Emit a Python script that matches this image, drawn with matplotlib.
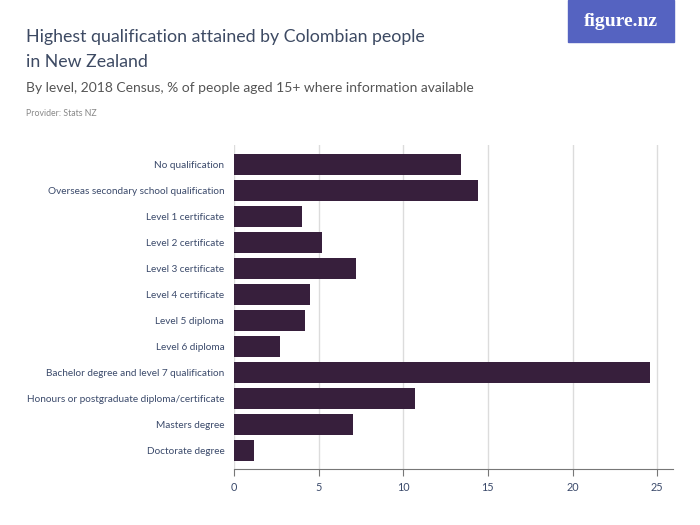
import matplotlib

matplotlib.use("Agg")
import matplotlib.pyplot as plt
from matplotlib.patches import Rectangle

categories = [
    "No qualification",
    "Overseas secondary school qualification",
    "Level 1 certificate",
    "Level 2 certificate",
    "Level 3 certificate",
    "Level 4 certificate",
    "Level 5 diploma",
    "Level 6 diploma",
    "Bachelor degree and level 7 qualification",
    "Honours or postgraduate diploma/certificate",
    "Masters degree",
    "Doctorate degree",
]
values = [13.4, 14.4, 4.0, 5.2, 7.2, 4.5, 4.2, 2.7, 24.6, 10.7, 7.0, 1.2]
xticks = [0, 5, 10, 15, 20, 25]

BAR = "#371f3c"
TEXT = "#3b4a6b"
GRID = "#dcdcdc"

plt.rcParams["font.family"] = ["Lato", "DejaVu Sans"]

fig = plt.figure(figsize=(7, 5.25), dpi=100)
ax = fig.add_axes([0.3343, 0.1061, 0.9614 - 0.3343, 0.7238 - 0.1061])

ypos = list(range(len(categories)))
ax.barh(ypos, values, height=0.8, color=BAR, zorder=3)
ax.set_ylim(len(categories) - 1 + 0.73, -0.74)
ax.set_xlim(0, 25.93)
ax.set_yticks(ypos)
ax.set_yticklabels(categories, fontsize=7.2, color=TEXT)
ax.set_xticks(xticks)
ax.set_xticklabels([str(t) for t in xticks], fontsize=7.8, color=TEXT)
ax.tick_params(axis="y", length=0, pad=7)
ax.tick_params(axis="x", length=5, color="#777777", pad=4)
ax.grid(axis="x", color=GRID, linewidth=1, zorder=0)
for side in ["top", "right", "left"]:
    ax.spines[side].set_visible(False)
ax.spines["bottom"].set_color("#777777")

fig.text(26 / 700, 1 - 37 / 525, "Highest qualification attained by Colombian people",
         fontsize=12.8, color="#3d4a63", va="center", ha="left")
fig.text(26 / 700, 1 - 62 / 525, "in New Zealand",
         fontsize=12.8, color="#3d4a63", va="center", ha="left")
fig.text(26 / 700, 1 - 88 / 525,
         "By level, 2018 Census, % of people aged 15+ where information available",
         fontsize=10, color="#555555", va="center", ha="left")
fig.text(26 / 700, 1 - 113 / 525, "Provider: Stats NZ",
         fontsize=6.3, color="#888888", va="center", ha="left")

fig.patches.append(Rectangle((568 / 700, 1 - 42 / 525), 106 / 700, 42 / 525,
                             transform=fig.transFigure, color="#5563c1", zorder=0))
fig.text(621 / 700, 1 - 21 / 525, "figure.nz", fontsize=14, color="white",
         fontweight="bold", family=["Liberation Serif", "DejaVu Serif"],
         va="center", ha="center")

fig.savefig("out.png", dpi=100)
